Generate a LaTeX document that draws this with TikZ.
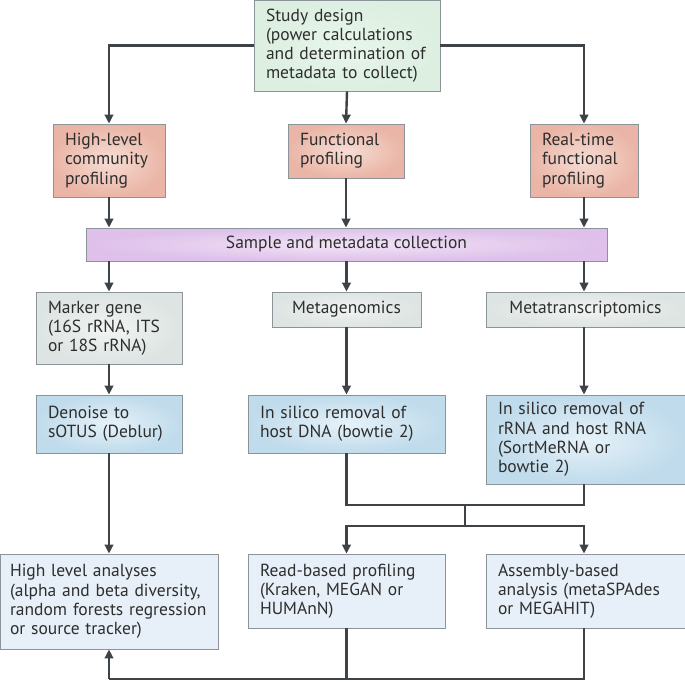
\documentclass[tikz,border=0pt]{standalone}
\usepackage{fontspec}
\setmainfont{PT Sans}
\usetikzlibrary{arrows.meta,calc}
\hyphenpenalty=10000

\definecolor{boxline}{HTML}{8A9499}
\definecolor{flowline}{HTML}{3D4347}
\definecolor{txt}{HTML}{2E2E2E}
\definecolor{greenin}{HTML}{E8F6EB}
\definecolor{greenout}{HTML}{DCEFE1}
\definecolor{pinkin}{HTML}{F6DDD4}
\definecolor{pinkout}{HTML}{EAB5A6}
\definecolor{purpin}{HTML}{F2E4F6}
\definecolor{purpout}{HTML}{DEC0EA}
\definecolor{greyin}{HTML}{F1F4F3}
\definecolor{greyout}{HTML}{DDE4E2}
\definecolor{bluein}{HTML}{E6F2F9}
\definecolor{blueout}{HTML}{C0DBEB}
\definecolor{paleblue}{HTML}{E7F0F8}

\begin{document}
\begin{tikzpicture}[x=1pt,y=-1pt,
  box/.style={draw=boxline,line width=0.8pt,inner xsep=12pt,inner ysep=0pt,
    text=txt,align=left,font=\fontsize{17.5}{19.2}\selectfont},
  ctrbox/.style={box,align=center},
  studybox/.style={shade,inner color=greenin,outer color=greenout},
  pinkbox/.style={shade,inner color=pinkin,outer color=pinkout},
  purpbox/.style={shade,inner color=purpin,outer color=purpout},
  greybox/.style={shade,inner color=greyin,outer color=greyout},
  bluebox/.style={shade,inner color=bluein,outer color=blueout},
  palebox/.style={fill=paleblue},
  link/.style={draw=flowline,line width=2.4pt},
  flow/.style={link,-{Triangle[width=8.5pt,length=9pt]}}
]
\useasboundingbox (0,0) rectangle (685,681);

% design and aims
\node[box,studybox,text width=162pt,minimum height=91pt] (study) at (347,45.5)
  {Study design\\(power calculations\\and determination of\\metadata to collect)};
\node[box,pinkbox,text width=88pt,minimum height=73pt] (community) at (109,160.5)
  {High-level\\community\\profiling};
\node[box,pinkbox,text width=92pt,minimum height=54pt] (functional) at (346,151)
  {Functional\\profiling};
\node[box,pinkbox,text width=84pt,minimum height=73pt] (realtime) at (584,160.5)
  {Real-time\\functional\\profiling};

% collection
\node[ctrbox,purpbox,minimum width=521pt,minimum height=33pt] (sample) at (346.5,244.5)
  {Sample and metadata collection};

% sequencing
\node[box,greybox,text width=122pt,minimum height=72pt] (marker) at (109,328)
  {Marker gene\\(16S rRNA, ITS\\or 18S rRNA)};
\node[ctrbox,greybox,minimum width=149pt,minimum height=35pt] (metag) at (346.5,309.5)
  {Metagenomics};
\node[ctrbox,greybox,minimum width=199pt,minimum height=35pt] (metat) at (585.5,309.5)
  {Metatranscriptomics};

% quality control
\node[box,bluebox,text width=122pt,minimum height=58pt] (denoise) at (109,424)
  {Denoise to\\sOTUS (Deblur)};
\node[box,bluebox,text width=173pt,minimum height=58pt] (hostdna) at (346.5,424)
  {In silico removal of\\host DNA (bowtie 2)};
\node[box,bluebox,text width=175pt,minimum height=89pt] (hostrna) at (585.5,439.5)
  {In silico removal of\\rRNA and host RNA\\(SortMeRNA or\\bowtie 2)};

% analyses
\node[box,palebox,inner xsep=10pt,text width=198pt,minimum height=95pt] (highan) at (109,601.5)
  {High level analyses\\(alpha and beta diversity,\\random forests regression\\or source tracker)};
\node[box,palebox,text width=173pt,minimum height=74pt] (readb) at (346.5,591)
  {Read-based profiling\\(Kraken, MEGAN or\\HUMAnN)};
\node[box,palebox,text width=175pt,minimum height=74pt] (assem) at (585.5,591)
  {Assembly-based\\analysis (metaSPAdes\\or MEGAHIT)};

\coordinate (merge) at (465,505);
\coordinate (split) at (465,526);
\coordinate (base) at (109,679);

\draw[flow] (study.west) -| (community.north);
\draw[flow] (study.south) -- (functional.north);
\draw[flow] (study.east) -| (realtime.north);

\draw[flow] (community.south) -- (community.south |- sample.north);
\draw[flow] (functional.south) -- (functional.south |- sample.north);
\draw[flow] (realtime.south) -- (realtime.south |- sample.north);

\draw[flow] (marker.north |- sample.south) -- (marker.north);
\draw[flow] (metag.north |- sample.south) -- (metag.north);
\draw[flow] (realtime.south |- sample.south) -- (realtime.south |- metat.north);

\draw[flow] (marker.south) -- (denoise.north);
\draw[flow] (metag.south) -- (hostdna.north);
\draw[flow] (realtime.south |- metat.south) -- (realtime.south |- hostrna.north);

\draw[flow] (denoise.south) -- (highan.north);
\draw[link] (hostdna.south) |- (merge) -| (realtime.south |- hostrna.south);
\draw[link] (merge) -- (split);
\draw[flow] (split) -| (readb.north);
\draw[flow] (split) -| (realtime.south |- assem.north);

\draw[link] (readb.south) -- (readb.south |- base);
\draw[link] (realtime.south |- assem.south) |- (base);
\draw[flow] (base) -- (highan.south);
\end{tikzpicture}
\end{document}
